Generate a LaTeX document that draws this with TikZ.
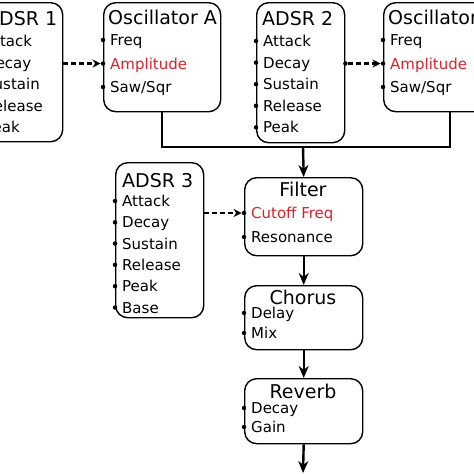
\documentclass[tikz,border=0pt]{standalone}
\usepackage{fontspec}
\setmainfont{DejaVu Sans}
\usetikzlibrary{arrows.meta}
\definecolor{modred}{RGB}{214,34,42}
\tikzset{
  block/.style={draw, rounded corners=12pt, line width=1.4pt, anchor=north west, inner sep=0pt},
  head/.style={font=\fontsize{19}{19}\selectfont, inner sep=0pt},
  param/.style={font=\fontsize{15}{15}\selectfont, anchor=base west, inner sep=0pt},
  port/.style={circle, fill, inner sep=0pt, minimum size=4.5pt},
  wire/.style={line width=2.4pt},
  flow/.style={wire, -{Stealth[length=12pt,width=10pt]}},
  mod/.style={line width=2.2pt, dash pattern=on 5pt off 3pt, -{Stealth[length=8pt,width=8pt]}},
}
\begin{document}
\begin{tikzpicture}[x=1pt,y=-1pt]
    \useasboundingbox (0,0) rectangle (474,474);
    \clip (0,0) rectangle (474,474);
    % boxes
    \node[block, minimum width=84pt, minimum height=139pt] (adsrA) at (-22,2) {};
    \node[block, minimum width=117pt, minimum height=109pt] (oscA) at (103,2) {};
    \node[block, minimum width=88pt, minimum height=140pt] (adsrB) at (256,2) {};
    \node[block, minimum width=132pt, minimum height=109pt] (oscB) at (383,2) {};
    \node[block, minimum width=88pt, minimum height=155pt] (adsrC) at (115,162) {};
    \node[block, minimum width=118pt, minimum height=78pt] (filter) at (244,177) {};
    \node[block, minimum width=118pt, minimum height=64pt] (chorus) at (244,285) {};
    \node[block, minimum width=118pt, minimum height=65pt] (reverb) at (244,378) {};
    % titles
    \node[head, anchor=base west] (adsrA-t) at (-14,25) {ADSR 1};
    \node[head, anchor=base west] (oscA-t) at (108,24) {Oscillator A};
    \node[head, anchor=base west] (adsrB-t) at (262,25) {ADSR 2};
    \node[head, anchor=base west] (oscB-t) at (388,24) {Oscillator B};
    \node[head, anchor=base west] (adsrC-t) at (122,187) {ADSR 3};
    \node[head, anchor=base] (filter-t) at (303,196) {Filter};
    \node[head, anchor=base] (chorus-t) at (303,304) {Chorus};
    \node[head, anchor=base] (reverb-t) at (303,398) {Reverb};
    % parameters
    \foreach \name [count=\i] in {Attack,Decay,Sustain,Release,Peak} {
        \pgfmathsetmacro\yy{41+(\i-1)*21.6}
        \node[port] (adsrA-\i) at (-22,\yy) {};
        \node[param] (adsrA-\i-l) at ([xshift=6pt,yshift=-5.5pt]adsrA-\i.center) {\name};
        \node[port] (adsrB-\i) at (256,\yy) {};
        \node[param] (adsrB-\i-l) at ([xshift=7pt,yshift=-5.5pt]adsrB-\i.center) {\name};
    }
    \foreach \name/\col [count=\i] in {Freq/black,Amplitude/modred,{Saw/Sqr}/black} {
        \pgfmathsetmacro\yy{40+(\i-1)*23.5}
        \node[port] (oscA-\i) at (103,\yy) {};
        \node[param, text=\col] (oscA-\i-l) at ([xshift=7pt,yshift=-5.5pt]oscA-\i.center) {\name};
        \node[port] (oscB-\i) at (383,\yy) {};
        \node[param, text=\col] (oscB-\i-l) at ([xshift=7pt,yshift=-5.5pt]oscB-\i.center) {\name};
    }
    \foreach \name [count=\i] in {Attack,Decay,Sustain,Release,Peak,Base} {
        \pgfmathsetmacro\yy{201+(\i-1)*21.3}
        \node[port] (adsrC-\i) at (115,\yy) {};
        \node[param] (adsrC-\i-l) at ([xshift=7pt,yshift=-5.5pt]adsrC-\i.center) {\name};
    }
    \node[port] (filter-1) at (244,213) {};
    \node[param, text=modred] (filter-1-l) at ([xshift=7pt,yshift=-5.5pt]filter-1.center) {Cutoff Freq};
    \node[port] (filter-2) at (244,237) {};
    \node[param] (filter-2-l) at ([xshift=7pt,yshift=-5.5pt]filter-2.center) {Resonance};
    \node[port] (chorus-1) at (244,313) {};
    \node[param] (chorus-1-l) at ([xshift=7pt,yshift=-5.5pt]chorus-1.center) {Delay};
    \node[port] (chorus-2) at (244,333) {};
    \node[param] (chorus-2-l) at ([xshift=7pt,yshift=-5.5pt]chorus-2.center) {Mix};
    \node[port] (reverb-1) at (244,408) {};
    \node[param] (reverb-1-l) at ([xshift=7pt,yshift=-5.5pt]reverb-1.center) {Decay};
    \node[port] (reverb-2) at (244,427) {};
    \node[param] (reverb-2-l) at ([xshift=7pt,yshift=-5.5pt]reverb-2.center) {Gain};
    % modulation
    \node[port] (adsrB-out) at (adsrB.east |- oscB-2) {};
    \draw[mod] (adsrA.east |- oscA-2) -- (oscA-2);
    \draw[mod] (adsrB-out) -- (oscB-2);
    \draw[mod] (adsrC.east |- filter-1) -- (filter-1);
    % signal path
    \coordinate (mix) at (303,147);
    \coordinate (out) at (303,473);
    \draw[wire] (oscA.south) |- (mix) -| (oscB.south);
    \draw[flow] (mix) -- (filter.north);
    \draw[flow] (filter.south) -- (chorus.north);
    \draw[flow] (chorus.south) -- (reverb.north);
    \draw[flow] (reverb.south) -- (out);
\end{tikzpicture}
\end{document}
